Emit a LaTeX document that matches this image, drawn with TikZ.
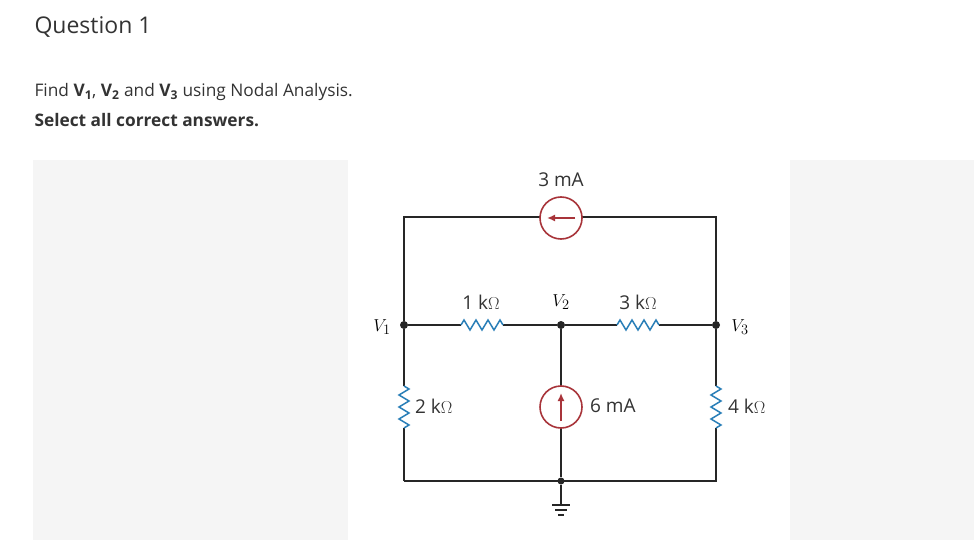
\documentclass[tikz,border=0pt]{standalone}
\usepackage{fontspec}
\setmainfont{Open Sans}
\usetikzlibrary{decorations.pathmorphing,arrows.meta}
\definecolor{res}{HTML}{2A7FB8}
\definecolor{src}{HTML}{A8343A}
\definecolor{panel}{HTML}{F5F5F5}
\definecolor{txt}{HTML}{333333}
\begin{document}
\begin{tikzpicture}[x=1pt,y=-1pt,
  wire/.style={line width=1.8pt,black!85},
  resist/.style={line width=1.5pt,res,decorate,decoration={zigzag,segment length=12pt,amplitude=5pt}},
  srcc/.style={circle,draw=src,line width=1.6pt,minimum size=42pt,inner sep=0pt,fill=white},
  dot/.style={circle,fill=black!85,inner sep=0pt,minimum size=8pt},
  lab/.style={font=\fontsize{19}{19}\selectfont,text=txt,inner sep=1pt},
  vlab/.style={font=\fontsize{19}{19}\selectfont,inner sep=1pt}]
\useasboundingbox (0,0) rectangle (974,548);
\fill[white] (0,0) rectangle (974,548);
\fill[panel] (33,160) rectangle (348,540);
\fill[panel] (790,160) rectangle (974,540);
\node[anchor=west,text=txt,font=\fontsize{23}{23}\selectfont] (q) at (31,27) {Question 1};
\node[anchor=west,text=txt,font=\fontsize{17.3}{18}\selectfont] (f) at (31,92) {Find \textbf{V\textsubscript{1}}, \textbf{V\textsubscript{2}} and \textbf{V\textsubscript{3}} using Nodal Analysis.};
\node[anchor=west,text=txt,font=\bfseries\fontsize{17.3}{18}\selectfont] (s) at (31,120) {Select all correct answers.};
% coordinates
\coordinate (tl) at (404,217); \coordinate (tr) at (716,217);
\coordinate (bl) at (404,481); \coordinate (br) at (716,481);
\node[dot] (n1) at (404,325) {};
\node[dot] (n2) at (561,325) {};
\node[dot] (n3) at (716,325) {};
\node[dot,minimum size=7pt] (g) at (561,481) {};
\coordinate (r1a) at (461,325); \coordinate (r1b) at (503,325);
\coordinate (r3a) at (617,325); \coordinate (r3b) at (659,325);
\coordinate (r2a) at (404,386); \coordinate (r2b) at (404,428);
\coordinate (r4a) at (716,386); \coordinate (r4b) at (716,428);
\coordinate (gt) at (561,505);
% wires
\draw[wire] (bl) -- (r2b); \draw[wire] (r2a) -- (n1) -- (r1a);
\draw[wire] (n1) -- (tl) -- (tr) -- (n3);
\draw[wire] (r1b) -- (n2) -- (r3a); \draw[wire] (r3b) -- (n3) -- (r4a);
\draw[wire] (r4b) -- (br) -- (bl);
\draw[wire] (n2) -- (g) -- (gt);
\draw[resist] (r1a) -- (r1b);
\draw[resist] (r3a) -- (r3b);
\draw[resist] (r2a) -- (r2b);
\draw[resist] (r4a) -- (r4b);
% sources
\node[srcc] (s3) at (561,218) {};
\draw[src,line width=1.6pt,-{Latex[length=8pt,width=7pt]}] ([xshift=14pt]s3.center) -- ([xshift=-14pt]s3.center);
\node[srcc] (s6) at (561,407) {};
\draw[src,line width=1.6pt,-{Latex[length=8pt,width=7pt]}] ([yshift=-14pt]s6.center) -- ([yshift=14pt]s6.center);
% ground
\draw[line width=1.5pt,black!85] (552,505) -- (570,505) (555,510) -- (567,510) (558,515) -- (564,515);
% labels
\node[lab] (l3) at (561,180) {3 mA};
\node[lab] (l6) at (589,406) [anchor=west] {6 mA};
\node[lab] (l1k) at (481,302) {1 k$\Omega$};
\node[lab] (l3k) at (638,302) {3 k$\Omega$};
\node[lab,anchor=west] (l2k) at (414,406) {2 k$\Omega$};
\node[lab,anchor=west] (l4k) at (727,406) {4 k$\Omega$};
\node[vlab] (v1) at (382,327) {$V_1$};
\node[vlab] (v2) at (561,302) {$V_2$};
\node[vlab] (v3) at (740,327) {$V_3$};
\end{tikzpicture}
\end{document}
